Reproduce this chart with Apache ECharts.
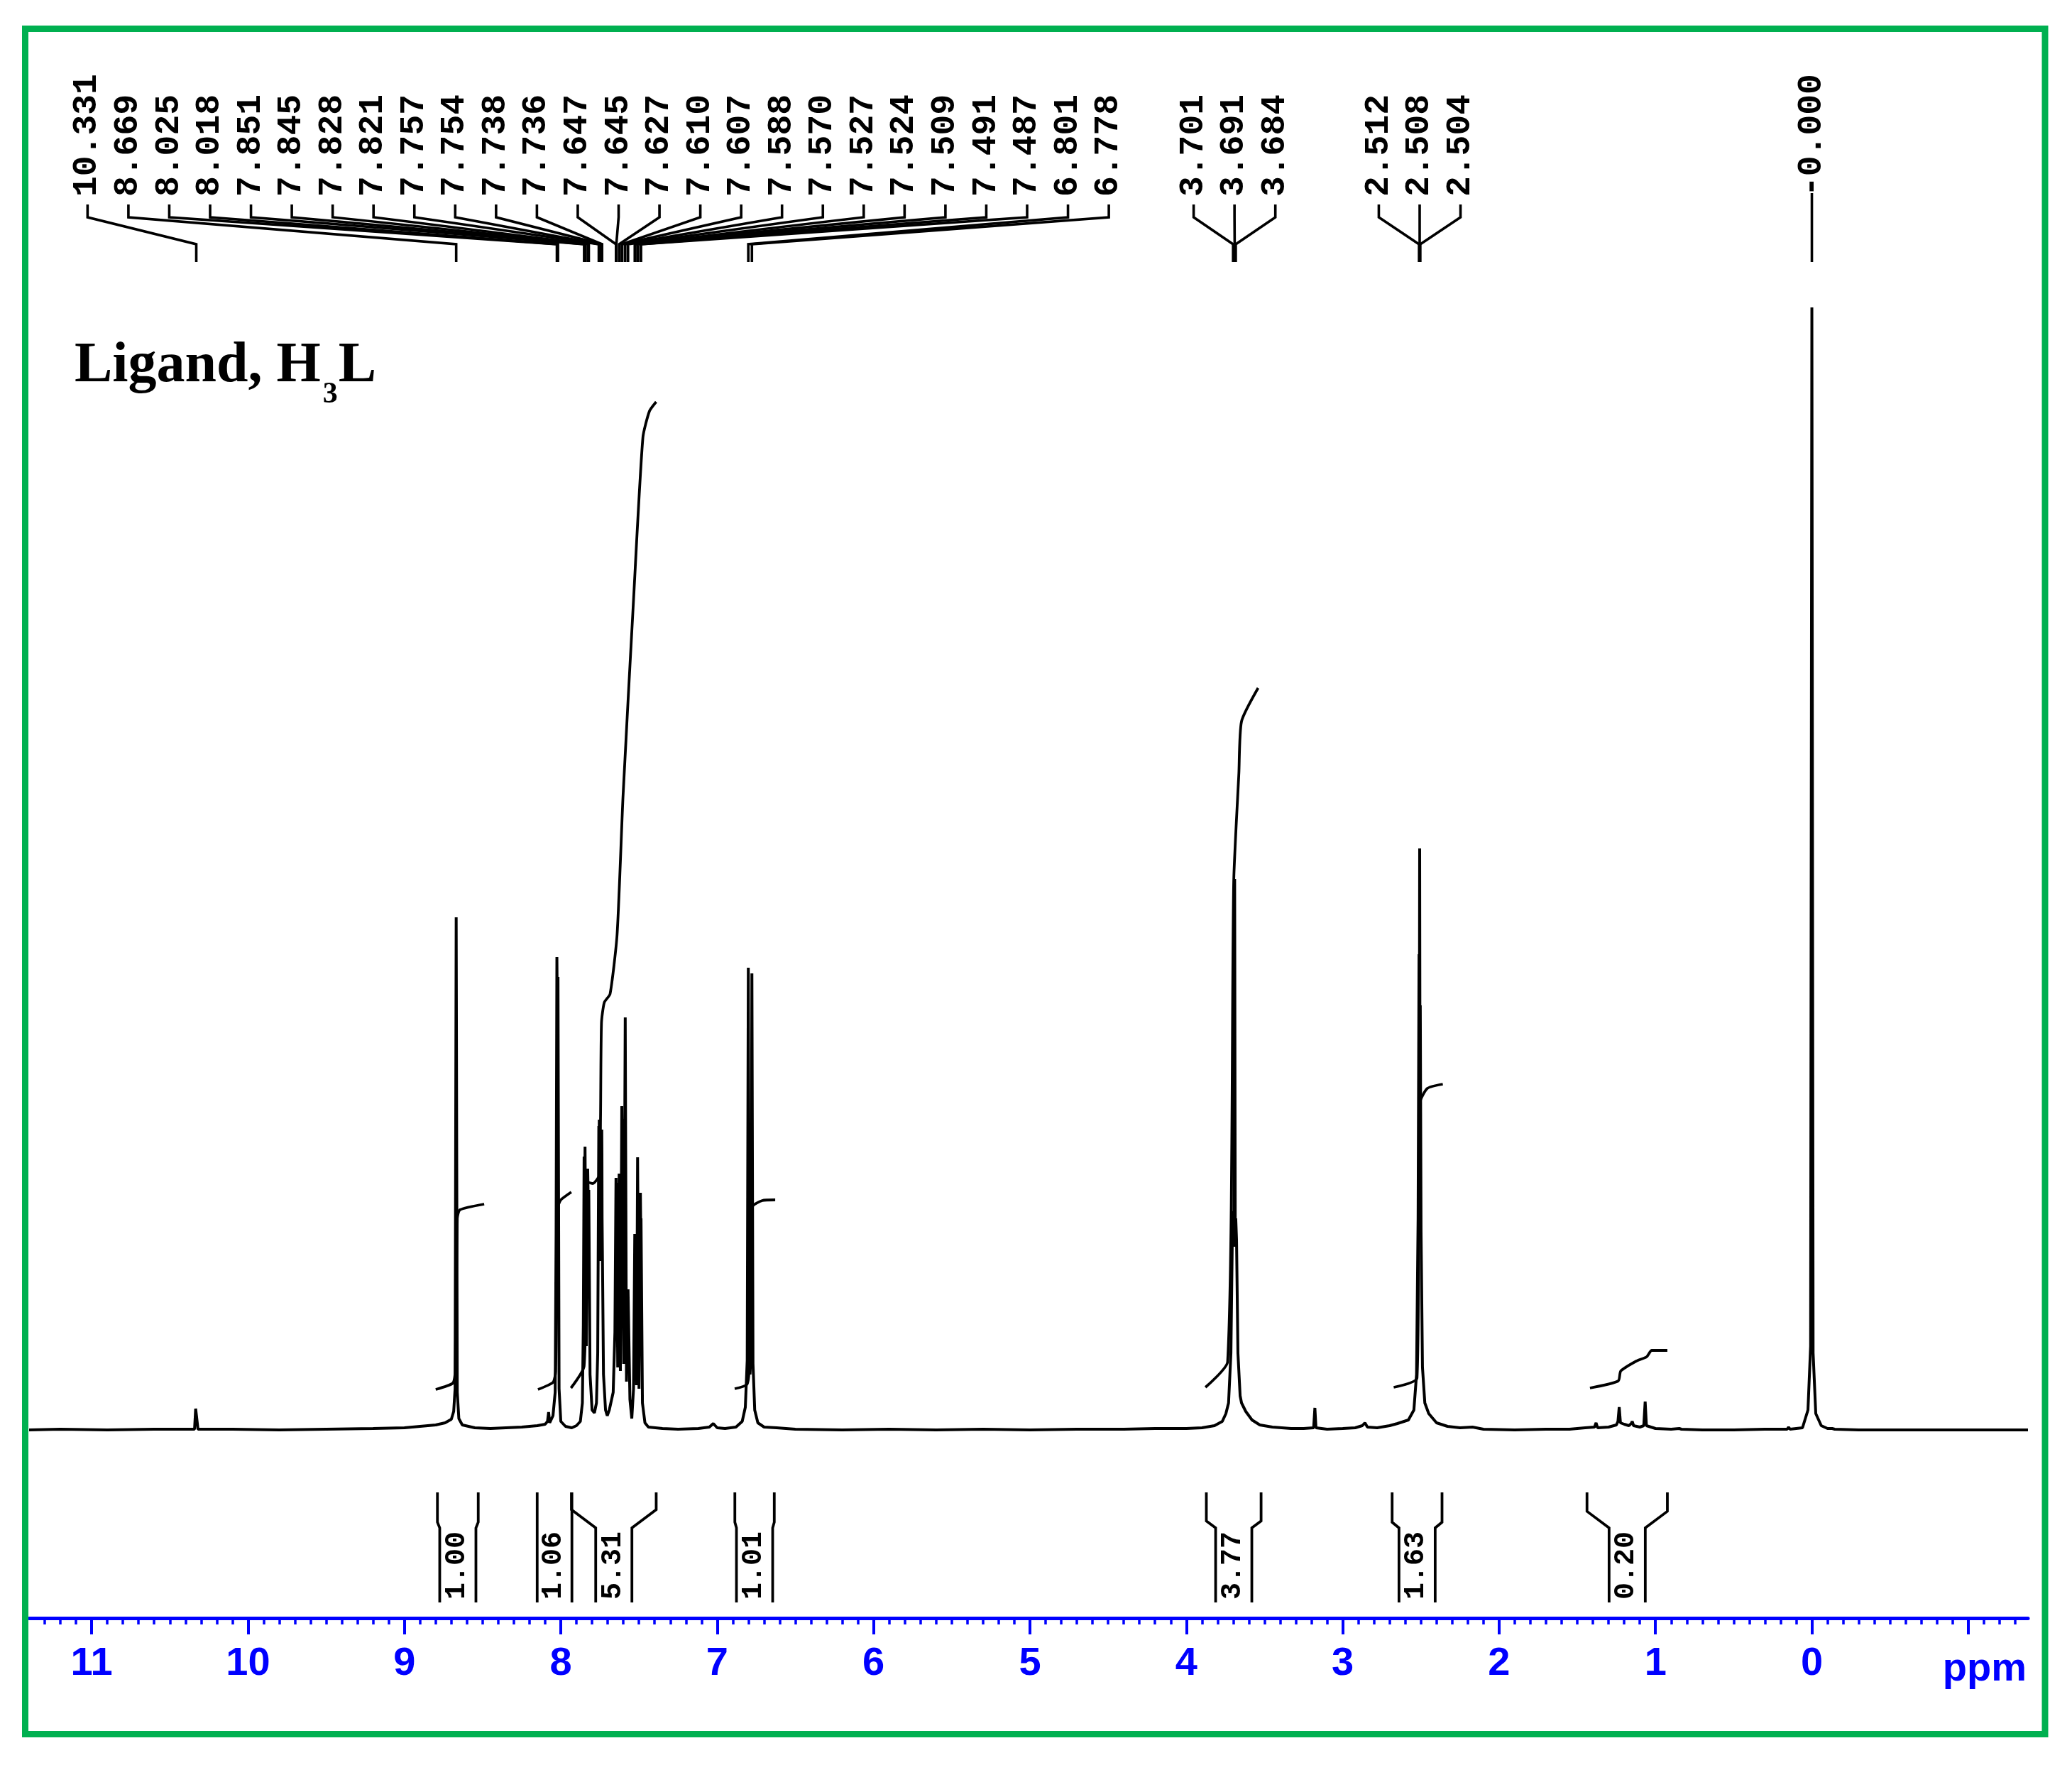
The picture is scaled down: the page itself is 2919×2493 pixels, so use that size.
<!DOCTYPE html>
<html><head><meta charset="utf-8">
<script src="https://cdn.jsdelivr.net/npm/echarts@6.0.0/dist/echarts.min.js"></script>
<style>html,body{margin:0;padding:0;background:#fff}#c{width:2919px;height:2493px}</style>
</head><body><div id="c"></div>
<script>
// ---------- DATA ----------
// spectrum: [ppm, intensity]
const spectrum = [
 [11.40,2],[11.2,3],[10.9,2],[10.6,3],[10.40,3],[10.342,3],[10.335,32],[10.327,32],[10.320,3],[10.1,3],[9.8,2],[9.5,3],[9.2,4],[9.0,5],[8.9,7],[8.80,9],[8.74,12],[8.70,17],[8.685,28],[8.676,60],[8.669,724],[8.662,55],[8.652,18],[8.63,9],[8.55,5],[8.45,4],[8.35,5],[8.25,6],[8.15,8],[8.10,10],[8.085,14],[8.078,27],[8.071,12],[8.05,22],[8.036,55],[8.030,280],[8.025,668],[8.0215,560],[8.018,640],[8.011,60],[8.0,14],[7.97,7],[7.93,5],[7.90,8],[7.875,14],[7.862,40],
 [7.856,150],[7.851,387],[7.848,320],[7.845,401],[7.837,120],[7.828,370],[7.825,330],[7.821,340],[7.813,80],[7.80,30],[7.785,26],[7.772,40],[7.764,110],
 [7.757,430],[7.7555,400],[7.754,439],[7.746,240],[7.738,425],[7.737,390],[7.736,301],[7.727,80],[7.714,30],[7.703,22],[7.69,30],[7.665,55],[7.654,140],
 [7.647,357],[7.646,320],[7.645,350],[7.636,90],[7.627,363],[7.619,85],[7.610,458],[7.6085,410],[7.607,440],[7.598,95],[7.588,583],[7.580,70],[7.570,200],[7.558,45],[7.546,18],[7.535,60],
 [7.527,278],[7.5255,240],[7.524,255],[7.516,65],[7.509,386],[7.500,60],[7.491,336],[7.489,290],[7.487,300],[7.478,40],[7.462,12],[7.44,6],[7.35,4],[7.25,3],[7.12,4],[7.05,6],[7.025,11],[7.0,5],[6.95,4],[6.88,6],[6.84,14],[6.82,34],
 [6.808,100],[6.801,653],[6.795,110],[6.790,80],[6.784,110],[6.778,645],[6.771,95],[6.760,30],[6.74,12],[6.70,6],[6.62,5],[6.5,3],[6.2,2],[5.9,3],[5.6,2],[5.3,3],[5.0,2],[4.7,3],[4.4,3],[4.2,4],[4.0,4],[3.9,5],[3.82,8],[3.77,14],[3.747,25],[3.73,40],
 [3.715,110],[3.705,290],[3.701,310],[3.696,260],[3.691,778],[3.687,260],[3.684,300],[3.679,270],[3.670,110],[3.656,50],[3.647,40],[3.62,28],[3.58,16],[3.53,9],[3.45,6],[3.33,4],[3.25,4],
 [3.186,5],[3.178,33],[3.171,5],[3.10,3],[3.0,4],[2.92,5],[2.875,8],[2.858,12],[2.842,6],[2.78,5],[2.70,8],[2.65,11],[2.58,16],[2.545,30],[2.528,80],
 [2.518,300],[2.512,672],[2.510,520],[2.508,821],[2.506,520],[2.504,600],[2.499,280],[2.49,90],[2.475,40],[2.45,25],[2.40,12],[2.33,7],[2.25,5],[2.17,6],[2.10,3],[1.9,2],[1.7,3],[1.55,3],
 [1.45,5],[1.39,6],[1.380,12],[1.370,5],[1.30,6],[1.25,9],[1.240,14],[1.232,34],[1.224,12],[1.20,10],[1.170,8],[1.155,11],[1.149,14],[1.140,8],[1.10,6],[1.075,8],[1.066,42],[1.058,8],[1.0,4],[0.90,3],[0.848,4],[0.842,6],[0.834,3],[0.7,2],[0.5,2],[0.3,3],[0.158,3],[0.149,6],[0.14,3],[0.06,5],
 [0.025,30],[0.008,120],[0.0,1583],[-0.008,110],[-0.025,25],[-0.06,8],[-0.10,4],[-0.130,4],[-0.138,6],[-0.146,3],[-0.3,2],[-0.7,2],[-1.0,2],[-1.382,2]
];
// integral curves: [ppm, integral height]
const integral1 = [[8.80,59],[8.69,68],[8.675,85],[8.662,300],[8.645,312],[8.49,320]];
const integral2 = [[8.146,59],[8.05,69],[8.033,84],[8.015,318],[8.0,326],[7.933,337]];
const integral3 = [[7.935,61],[7.851,92],[7.827,351],[7.796,349],[7.753,361],[7.746,440],[7.740,575],[7.722,604],[7.685,616],[7.64,700],[7.602,895],[7.534,1175],[7.475,1400],[7.433,1437],[7.39,1450]];
const integral4 = [[6.888,60],[6.81,66],[6.795,90],[6.775,316],[6.712,325],[6.629,326]];
const integral5 = [[3.878,62],[3.736,98],[3.697,774],[3.664,927],[3.647,1000],[3.541,1047]];
const integral6 = [[2.674,62],[2.525,75],[2.508,462],[2.459,483],[2.360,489]];
const integral7 = [[1.419,61],[1.238,71],[1.222,85],[1.122,99],[1.056,105],[1.024,114],[0.924,114]];
const integralCurves = [integral1, integral2, integral3, integral4, integral5, integral6, integral7];
// integration regions: [from ppm, to ppm, value]
const integrationFrom = [8.789, 8.151, 7.932, 6.887, 3.872, 2.684, 1.438];
const integrationTo   = [8.528, 7.929, 7.390, 6.635, 3.522, 2.365, 0.924];
const integrationVals = ['1.00','1.06','5.31','1.01','3.77','1.63','0.20'];
// peak picking labels (groups)
const peakGroup1 = ['10.331','8.669','8.025','8.018','7.851','7.845','7.828','7.821','7.757','7.754','7.738','7.736','7.647','7.645','7.627','7.610','7.607','7.588','7.570','7.527','7.524','7.509','7.491','7.487','6.801','6.778'];
const peakGroup2 = ['3.701','3.691','3.684'];
const peakGroup3 = ['2.512','2.508','2.504'];
const peakGroup4 = ['-0.000'];
const peakLabelGroups = [peakGroup1, peakGroup2, peakGroup3, peakGroup4];
// axis
const majorTickValues = [-1,0,1,2,3,4,5,6,7,8,9,10,11];
const axisUnitLabel = 'ppm';
const titleMain = 'Ligand, H', titleSub = '3', titleEnd = 'L';

// ---------- LAYOUT ----------
const X_MIN = -1.382, X_MAX = 11.400, Y_MIN = -263, Y_MAX = 1975;
const minorTickValues = [];
for (let k = Math.ceil(X_MIN * 10); k < Math.floor(X_MAX * 10); k++) { if (k % 10 !== 0) minorTickValues.push(k / 10); }

const peakLabelItems = [];
peakLabelGroups.forEach(g => {
  const vals = g.map(parseFloat);
  const mean = vals.reduce((a, b) => a + b, 0) / vals.length;
  vals.forEach((v, i) => peakLabelItems.push({ text: g[i], value: [v, 0, mean, i - (g.length - 1) / 2, g.length] }));
});
const integrationItems = integrationFrom.map((f, i) => [f, 0, integrationTo[i]]);

const LBL_SPACING = 57.55;
const MONO = '"Liberation Mono", "DejaVu Sans Mono", monospace';
const LW = 3.8;

const chart = echarts.init(document.getElementById('c'), null, { renderer: 'canvas' });

// title measurement
const mctx = document.createElement('canvas').getContext('2d');
mctx.font = 'bold 80px "Liberation Serif"';
const wMain = mctx.measureText(titleMain).width;
mctx.font = 'bold 42px "Liberation Serif"';
const wSub = mctx.measureText(titleSub).width;
const TITLE_X = 105;

const series = [];
series.push({
  type: 'line', data: spectrum, symbol: 'none', sampling: false, silent: true, z: 2,
  lineStyle: { color: '#000', width: 4 }, animation: false
});
integralCurves.forEach(c => series.push({
  type: 'line', data: c, symbol: 'none', silent: true, z: 3, smooth: 0.2,
  lineStyle: { color: '#000', width: LW }, animation: false
}));
series.push({
  type: 'custom', coordinateSystem: 'cartesian2d', clip: false, silent: true, z: 4, animation: false,
  encode: { x: 0, y: 1 },
  data: peakLabelItems.map(d => d.value),
  renderItem: function (params, api) {
    const ppm = api.value(0), mean = api.value(2), off = api.value(3), n = api.value(4);
    const px = api.coord([ppm, 0])[0];
    const cx = api.coord([mean, 0])[0];
    const lx = cx + off * LBL_SPACING;
    const pts = n === 1 ? [[lx, 272], [px, 369]] : [[lx, 288], [lx, 306], [px, 344], [px, 369]];
    return {
      type: 'group', children: [
        { type: 'text', x: lx, y: 277, rotation: Math.PI / 2,
          style: { text: peakLabelItems[params.dataIndex].text, fontSize: 48, fontWeight: 'bold', fontFamily: MONO, fill: '#000', align: 'left', verticalAlign: 'middle' } },
        { type: 'polyline', shape: { points: pts }, style: { stroke: '#000', lineWidth: 3.6, fill: 'none' } }
      ]
    };
  }
});
series.push({
  type: 'custom', coordinateSystem: 'cartesian2d', clip: false, silent: true, z: 4, animation: false,
  encode: { x: 0, y: 1 },
  data: integrationItems,
  renderItem: function (params, api) {
    const x1 = api.coord([api.value(0), 0])[0];
    const x2 = api.coord([api.value(2), 0])[0];
    const base = api.coord([0, 0])[1];
    const top = base + 86, sEnd = base + 136, bottom = base + 241, ly = base + 189;
    const cx = (x1 + x2) / 2, oh = (x2 - x1) / 2, ih = Math.min(oh, 25.5);
    const dx = oh - ih;
    const sStart = sEnd - Math.max(8, Math.min(30, dx * 0.75));
    const st = { stroke: '#000', lineWidth: LW, fill: 'none' };
    return {
      type: 'group', children: [
        { type: 'polyline', shape: { points: [[x1, top], [x1, sStart], [cx - ih, sEnd], [cx - ih, bottom]] }, style: st },
        { type: 'polyline', shape: { points: [[x2, top], [x2, sStart], [cx + ih, sEnd], [cx + ih, bottom]] }, style: st },
        { type: 'text', x: cx - 1, y: ly, rotation: Math.PI / 2,
          style: { text: integrationVals[params.dataIndex], fontSize: 40, fontWeight: 'bold', fontFamily: MONO, fill: '#000', align: 'center', verticalAlign: 'middle' } }
      ]
    };
  }
});

const option = {
  animation: false,
  backgroundColor: '#ffffff',
  grid: { left: 41, right: 62, top: 41, bottom: 214, containLabel: false, outerBoundsMode: 'none' },
  xAxis: [
    { type: 'value', min: X_MIN, max: X_MAX, inverse: true, position: 'bottom',
      axisLine: { show: true, onZero: false, lineStyle: { color: '#0000ff', width: 5 } },
      axisTick: { show: true, customValues: majorTickValues, length: 23, lineStyle: { color: '#0000ff', width: 4 } },
      axisLabel: { show: true, customValues: majorTickValues, margin: 37, color: '#0000ff', fontSize: 56, fontWeight: 'bold', fontFamily: 'Liberation Sans',
        formatter: v => (v === -1 ? '{u|' + axisUnitLabel + '}' : String(v)),
        rich: { u: { color: '#0000ff', fontSize: 56, fontWeight: 'bold', fontFamily: 'Liberation Sans', padding: [8, 0, 0, 46] } } },
      splitLine: { show: false } },
    { type: 'value', min: X_MIN, max: X_MAX, inverse: true, position: 'bottom',
      axisLine: { show: false, onZero: false },
      axisTick: { show: true, customValues: minorTickValues, length: 9, lineStyle: { color: '#0000ff', width: 3.5 } },
      axisLabel: { show: false }, splitLine: { show: false } }
  ],
  yAxis: { type: 'value', min: Y_MIN, max: Y_MAX, show: false },
  graphic: [
    { type: 'rect', shape: { x: 35.5, y: 40.5, width: 2845.5, height: 2402 }, style: { fill: 'none', stroke: '#00b050', lineWidth: 9 }, z: 10 },
    { type: 'text', x: TITLE_X, y: 516, style: { text: titleMain, font: 'bold 80px "Liberation Serif"', fill: '#000', align: 'left', verticalAlign: 'middle' } },
    { type: 'text', x: TITLE_X + wMain + 3, y: 556, style: { text: titleSub, font: 'bold 42px "Liberation Serif"', fill: '#000', align: 'left', verticalAlign: 'middle' } },
    { type: 'text', x: TITLE_X + wMain + wSub + 4, y: 516, style: { text: titleEnd, font: 'bold 80px "Liberation Serif"', fill: '#000', align: 'left', verticalAlign: 'middle' } }
  ],
  series: series
};
chart.setOption(option);
</script></body></html>
